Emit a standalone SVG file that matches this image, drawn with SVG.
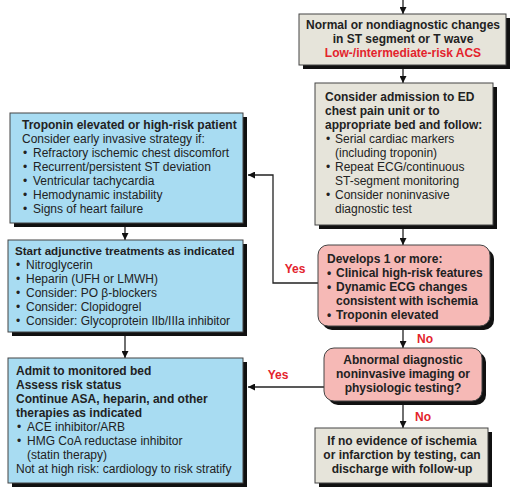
<svg xmlns="http://www.w3.org/2000/svg" width="516" height="496" viewBox="0 0 516 496">
<defs>
<style>
text{font-family:"Liberation Sans",Arial,sans-serif;font-size:12px;fill:#222}
.b{font-weight:bold}
.c{text-anchor:middle}
.red{fill:#e3232c;font-weight:bold}
.sh{fill:#111}
.gray{fill:#e6e4da;stroke:#444;stroke-width:1}
.pink{fill:#f6b9b6;stroke:#444;stroke-width:1}
.blue{fill:#a8dcf2;stroke:#444;stroke-width:1}
.ln{stroke:#222;stroke-width:1.3;fill:none}
</style>
<marker id="ah" viewBox="0 0 10 10" refX="10" refY="5" markerWidth="7" markerHeight="7" markerUnits="userSpaceOnUse" orient="auto">
<path d="M0,0 L10,5 L0,10 z" fill="#111"/>
</marker>
</defs>
<rect width="516" height="496" fill="#fff"/>

<g id="connectors">
<line class="ln" x1="403" y1="0" x2="403" y2="14" marker-end="url(#ah)"/>
<line class="ln" x1="403" y1="69" x2="403" y2="83" marker-end="url(#ah)"/>
<line class="ln" x1="403" y1="229" x2="403" y2="245" marker-end="url(#ah)"/>
<line class="ln" x1="403" y1="330" x2="403" y2="348" marker-end="url(#ah)"/>
<line class="ln" x1="403" y1="405" x2="403" y2="428" marker-end="url(#ah)"/>
<polyline class="ln" points="318,283 273,283 273,175 248,175" marker-end="url(#ah)"/>
<line class="ln" x1="324" y1="387" x2="248" y2="387" marker-end="url(#ah)"/>
<line class="ln" x1="125" y1="227" x2="125" y2="240" marker-end="url(#ah)"/>
<line class="ln" x1="125" y1="336" x2="125" y2="358" marker-end="url(#ah)"/>
<text class="red" x="295" y="273" text-anchor="middle">Yes</text>
<text class="red" x="278" y="379" text-anchor="middle">Yes</text>
<text class="red" x="425" y="343" text-anchor="middle">No</text>
<text class="red" x="423" y="421" text-anchor="middle">No</text>
</g>

<g id="n-normal">
<rect class="sh" x="303" y="18" width="207" height="51"/>
<rect class="gray" x="299" y="14" width="207" height="51"/>
<text class="b c" x="403" y="29">Normal or nondiagnostic changes</text>
<text class="b c" x="403" y="43">in ST segment or T wave</text>
<text class="red c" x="403" y="57">Low-/intermediate-risk ACS</text>
</g>

<g id="n-admission">
<rect class="sh" x="319" y="87" width="178" height="142"/>
<rect class="gray" x="315" y="83" width="178" height="142"/>
<text class="b" x="325" y="101">Consider admission to ED</text>
<text class="b" x="325" y="115">chest pain unit or to</text>
<text class="b" x="325" y="129">appropriate bed and follow:</text>
<text x="326" y="143">•</text><text x="335" y="143">Serial cardiac markers</text>
<text x="335" y="157">(including troponin)</text>
<text x="326" y="171">•</text><text x="335" y="171">Repeat ECG/continuous</text>
<text x="335" y="185">ST-segment monitoring</text>
<text x="326" y="199">•</text><text x="335" y="199">Consider noninvasive</text>
<text x="335" y="213">diagnostic test</text>
</g>

<g id="n-develops">
<rect class="sh" x="322" y="249" width="172" height="81" rx="10"/>
<rect class="pink" x="318" y="245" width="172" height="81" rx="10"/>
<text class="b" x="327" y="263">Develops 1 or more:</text>
<text class="b" x="327" y="277">•</text><text class="b" x="336" y="277">Clinical high-risk features</text>
<text class="b" x="327" y="291">•</text><text class="b" x="336" y="291">Dynamic ECG changes</text>
<text class="b" x="336" y="305">consistent with ischemia</text>
<text class="b" x="327" y="319">•</text><text class="b" x="336" y="319">Troponin elevated</text>
</g>

<g id="n-abnormal">
<rect class="sh" x="328" y="352" width="158" height="53" rx="10"/>
<rect class="pink" x="324" y="348" width="158" height="53" rx="10"/>
<text class="b c" x="403" y="364">Abnormal diagnostic</text>
<text class="b c" x="403" y="378">noninvasive imaging or</text>
<text class="b c" x="403" y="392">physiologic testing?</text>
</g>

<g id="n-discharge">
<rect class="sh" x="319" y="432" width="173" height="55"/>
<rect class="gray" x="315" y="428" width="173" height="55"/>
<text class="b c" x="402" y="445">If no evidence of ischemia</text>
<text class="b c" x="402" y="459">or infarction by testing, can</text>
<text class="b c" x="402" y="473">discharge with follow-up</text>
</g>

<g id="n-troponin">
<rect class="sh" x="14" y="117" width="233" height="110"/>
<rect class="blue" x="10" y="113" width="233" height="110"/>
<text class="b" x="22" y="129">Troponin elevated or high-risk patient</text>
<text x="22" y="143">Consider early invasive strategy if:</text>
<text x="23" y="157">•</text><text x="33" y="157">Refractory ischemic chest discomfort</text>
<text x="23" y="171">•</text><text x="33" y="171">Recurrent/persistent ST deviation</text>
<text x="23" y="185">•</text><text x="33" y="185">Ventricular tachycardia</text>
<text x="23" y="199">•</text><text x="33" y="199">Hemodynamic instability</text>
<text x="23" y="213">•</text><text x="33" y="213">Signs of heart failure</text>
</g>

<g id="n-adjunctive">
<rect class="sh" x="12" y="244" width="235" height="92"/>
<rect class="blue" x="8" y="240" width="235" height="92"/>
<text class="b" x="15" y="255" style="font-size:11.6px">Start adjunctive treatments as indicated</text>
<text x="16" y="269">•</text><text x="26" y="269">Nitroglycerin</text>
<text x="16" y="283">•</text><text x="26" y="283">Heparin (UFH or LMWH)</text>
<text x="16" y="297">•</text><text x="26" y="297">Consider: PO β-blockers</text>
<text x="16" y="311">•</text><text x="26" y="311">Consider: Clopidogrel</text>
<text x="16" y="325">•</text><text x="26" y="325">Consider: Glycoprotein IIb/IIIa inhibitor</text>
</g>

<g id="n-admit">
<rect class="sh" x="12" y="362" width="235" height="125"/>
<rect class="blue" x="8" y="358" width="235" height="125"/>
<text class="b" x="16" y="375">Admit to monitored bed</text>
<text class="b" x="16" y="389">Assess risk status</text>
<text class="b" x="16" y="403">Continue ASA, heparin, and other</text>
<text class="b" x="16" y="417">therapies as indicated</text>
<text x="17" y="431">•</text><text x="27" y="431">ACE inhibitor/ARB</text>
<text x="17" y="445">•</text><text x="27" y="445">HMG CoA reductase inhibitor</text>
<text x="27" y="459">(statin therapy)</text>
<text x="16" y="473">Not at high risk: cardiology to risk stratify</text>
</g>
</svg>
